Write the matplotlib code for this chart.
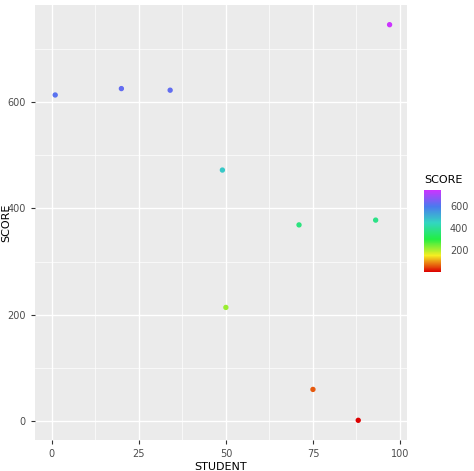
import matplotlib
matplotlib.use("Agg")
import matplotlib.pyplot as plt
from matplotlib.colors import LinearSegmentedColormap, Normalize

student = [1, 20, 34, 49, 50, 71, 75, 88, 93, 97]
score = [613, 625, 622, 472, 214, 369, 60, 2, 378, 745]

cmap = LinearSegmentedColormap.from_list(
    "rb", ["#DD0000", "#F5EE22", "#22EE44", "#33D6C0", "#4A7AEE", "#CC33FF"])
norm = Normalize(vmin=min(score), vmax=max(score))

fig = plt.figure(figsize=(4.74, 4.71), dpi=100)
ax = fig.add_axes([35 / 474, 1 - 440 / 471, 372 / 474, 435 / 471])
ax.set_facecolor("#EBEBEB")
for s in ax.spines.values():
    s.set_visible(False)

ax.set_xlim(-4.8, 102)
ax.set_ylim(-35, 782)
ax.set_xticks([0, 25, 50, 75, 100])
ax.set_yticks([0, 200, 400, 600])
ax.set_xticks([12.5, 37.5, 62.5, 87.5], minor=True)
ax.set_yticks([100, 300, 500, 700], minor=True)
ax.grid(True, which="major", color="white", linewidth=1.0)
ax.grid(True, which="minor", color="white", linewidth=0.5)
ax.set_axisbelow(True)
ax.tick_params(which="major", length=3, color="#333333", labelsize=7, labelcolor="#4D4D4D")
ax.tick_params(which="minor", length=0)

ax.scatter(student, score, c=score, cmap=cmap, norm=norm, s=8, zorder=3)
ax.set_xlabel("STUDENT", fontsize=8, labelpad=2)
ax.set_ylabel("SCORE", fontsize=8)
ax.yaxis.set_label_coords(-0.065, 0.5)

cax = fig.add_axes([424 / 474, 1 - 272 / 471, 17 / 474, 82 / 471])
sm = plt.cm.ScalarMappable(norm=norm, cmap=cmap)
cb = fig.colorbar(sm, cax=cax)
cb.outline.set_visible(False)
cb.set_ticks([200, 400, 600])
cb.ax.tick_params(labelsize=7, length=3, color="white", labelcolor="#4D4D4D")
fig.text(424 / 474, 1 - 180 / 471, "SCORE", fontsize=8, va="center", ha="left")

fig.savefig("out.png", dpi=100)
